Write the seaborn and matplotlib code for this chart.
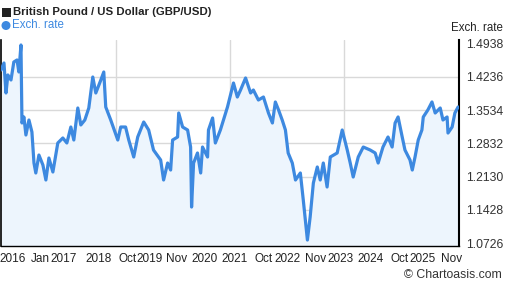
import matplotlib
matplotlib.use("Agg")
import matplotlib.pyplot as plt
import matplotlib.patches as mpatches
import seaborn as sns
import pandas as pd

years = [2016.05, 2016.115, 2016.159, 2016.20, 2016.268, 2016.33, 2016.40, 2016.44, 2016.486, 2016.508,
         2016.55, 2016.594, 2016.66, 2016.725, 2016.77, 2016.81, 2016.878, 2016.965, 2017.03, 2017.096,
         2017.183, 2017.29, 2017.40, 2017.488, 2017.575, 2017.64, 2017.727, 2017.793, 2017.88, 2017.967,
         2018.054, 2018.12, 2018.23, 2018.294, 2018.337, 2018.446, 2018.60, 2018.664, 2018.77, 2018.84,
         2018.948, 2019.035, 2019.166, 2019.274, 2019.38, 2019.536, 2019.60, 2019.688, 2019.754, 2019.797,
         2019.906, 2019.93, 2020.015, 2020.124, 2020.19, 2020.211, 2020.255, 2020.34, 2020.41, 2020.45,
         2020.56, 2020.58, 2020.67, 2020.73, 2020.84, 2020.995, 2021.126, 2021.21, 2021.28, 2021.39,
         2021.50, 2021.56, 2021.67, 2021.78, 2021.89, 2021.976, 2022.04, 2022.11, 2022.19, 2022.26,
         2022.32, 2022.41, 2022.48, 2022.586, 2022.65, 2022.74, 2022.80, 2022.87, 2022.956, 2023.02,
         2023.087, 2023.17, 2023.24, 2023.39, 2023.50, 2023.61, 2023.675, 2023.74, 2023.85, 2023.96,
         2024.11, 2024.22, 2024.285, 2024.39, 2024.50, 2024.59, 2024.655, 2024.72, 2024.81, 2024.87,
         2024.98, 2025.03, 2025.09, 2025.16, 2025.24, 2025.27, 2025.37, 2025.46, 2025.53, 2025.64,
         2025.70, 2025.79, 2025.81, 2025.90, 2025.96, 2026.03]
rates = [1.4383, 1.4531, 1.3897, 1.4278, 1.4172, 1.4552, 1.4595, 1.4341, 1.4912, 1.3263,
         1.3390, 1.3009, 1.3326, 1.3073, 1.2417, 1.2206, 1.2586, 1.2375, 1.2058, 1.2523,
         1.2227, 1.2840, 1.2946, 1.2840, 1.3178, 1.2903, 1.3580, 1.3221, 1.3326, 1.3580,
         1.4235, 1.3897, 1.4172, 1.4341, 1.3601, 1.3326, 1.2903, 1.3178, 1.3178, 1.2903,
         1.2544, 1.2967, 1.3284, 1.3115, 1.2692, 1.2481, 1.2058, 1.2417, 1.2269, 1.2903,
         1.2967, 1.3474, 1.3178, 1.3115, 1.2755, 1.1487, 1.2417, 1.2629, 1.2206, 1.2755,
         1.2544, 1.3115, 1.3369, 1.2840, 1.3115, 1.3601, 1.4108, 1.3812, 1.3960, 1.4214,
         1.3897, 1.3960, 1.3749, 1.3812, 1.3474, 1.3263, 1.3707, 1.3538, 1.3326, 1.3115,
         1.2629, 1.2417, 1.2058, 1.2206, 1.1635, 1.0789, 1.1276, 1.1994, 1.2333, 1.2058,
         1.2417, 1.1910, 1.2544, 1.2629, 1.3115, 1.2692, 1.2417, 1.2121, 1.2544, 1.2755,
         1.2692, 1.2629, 1.2417, 1.2755, 1.2967, 1.2755, 1.3263, 1.3390, 1.2967, 1.2692,
         1.2481, 1.2269, 1.2544, 1.2903, 1.3115, 1.3390, 1.3538, 1.3707, 1.3474, 1.3580,
         1.3326, 1.3390, 1.3051, 1.3178, 1.3474, 1.3601]

y_ticks = [1.0726, 1.1428, 1.2130, 1.2832, 1.3534, 1.4236, 1.4938]
y_tick_labels = ["1.0726", "1.1428", "1.2130", "1.2832", "1.3534", "1.4236", "1.4938"]
x_tick_pos = [2016.312, 2016.912, 2017.415, 2018.19, 2018.823, 2019.303, 2019.893, 2020.493,
              2021.159, 2021.782, 2022.295, 2022.917, 2023.463, 2024.129, 2024.751, 2025.264, 2025.897]
x_tick_labels = ["2016", "Jan", "2017", "2018", "Oct", "2019", "Nov", "2020", "2021", "Oct",
                 "2022", "Nov", "2023", "2024", "Oct", "2025", "Nov"]
v_grid = [2018.555, 2021.04, 2023.54]

df = pd.DataFrame({"year": years, "rate": rates})

sns.set_style("white")
plt.rcParams['font.family'] = ['Liberation Sans', 'DejaVu Sans']

W, H = 507, 288
fig = plt.figure(figsize=(W / 100, H / 100), dpi=100)
ax = fig.add_axes([1 / W, (H - 246) / H, 458 / W, 206 / H])

YMIN, YMAX = 1.0663, 1.5017
XMIN, XMAX = 2016.05, 2026.05
BLUE = "#3d89e0"

for yv in y_ticks[1:-1]:
    ax.axhline(yv, color="#d9d9d9", lw=1, zorder=0)
for xv in v_grid:
    ax.axvline(xv, color="#d9d9d9", lw=1, zorder=0)

ax.fill_between(df["year"], df["rate"], YMIN, color="#edf5fd", zorder=1, lw=0)
sns.lineplot(data=df, x="year", y="rate", ax=ax, color=BLUE, lw=2.3, zorder=3)

ax.set_xlim(XMIN, XMAX)
ax.set_ylim(YMIN, YMAX)
ax.set_xlabel("")
ax.set_ylabel("")

ax.yaxis.tick_right()
ax.set_yticks(y_ticks)
ax.set_yticklabels(y_tick_labels)
ax.set_xticks(x_tick_pos)
ax.set_xticklabels(x_tick_labels)
ax.tick_params(axis="y", length=0, pad=5, labelsize=8.8, labelcolor="#333333")
ax.tick_params(axis="x", length=0, pad=5, labelsize=8.5, labelcolor="#222222")

for s in ["left", "bottom", "right"]:
    ax.spines[s].set_visible(True)
    ax.spines[s].set_color("black")
ax.spines["right"].set_linewidth(1.5)
ax.spines["left"].set_linewidth(1.2)
ax.spines["bottom"].set_linewidth(1.0)
ax.spines["top"].set_visible(False)

# header
fig.add_artist(mpatches.Rectangle((2 / W, 1 - 16.5 / H), 9 / W, 9 / H, transform=fig.transFigure,
                                  facecolor="#222222", edgecolor="none"))
fig.text(13 / W, 1 - 12 / H, "British Pound / US Dollar (GBP/USD)", fontsize=8.2, fontweight="bold",
         color="#222222", va="center", ha="left")
fig.add_artist(mpatches.Ellipse((6 / W, 1 - 25.5 / H), 9 / W, 9 / H, transform=fig.transFigure,
                                facecolor=BLUE, edgecolor="none"))
fig.text(12 / W, 1 - 25.5 / H, "Exch. rate", fontsize=8.3, color=BLUE, va="center", ha="left")
fig.text(503 / W, 1 - 28 / H, "Exch. rate", fontsize=8.3, color="#222222", va="center", ha="right")
fig.text(502 / W, 1 - 275 / H, "\u00A9 Chartoasis.com", fontsize=8.8, color="#333333", va="center", ha="right")

fig.savefig("out.png", dpi=100)
